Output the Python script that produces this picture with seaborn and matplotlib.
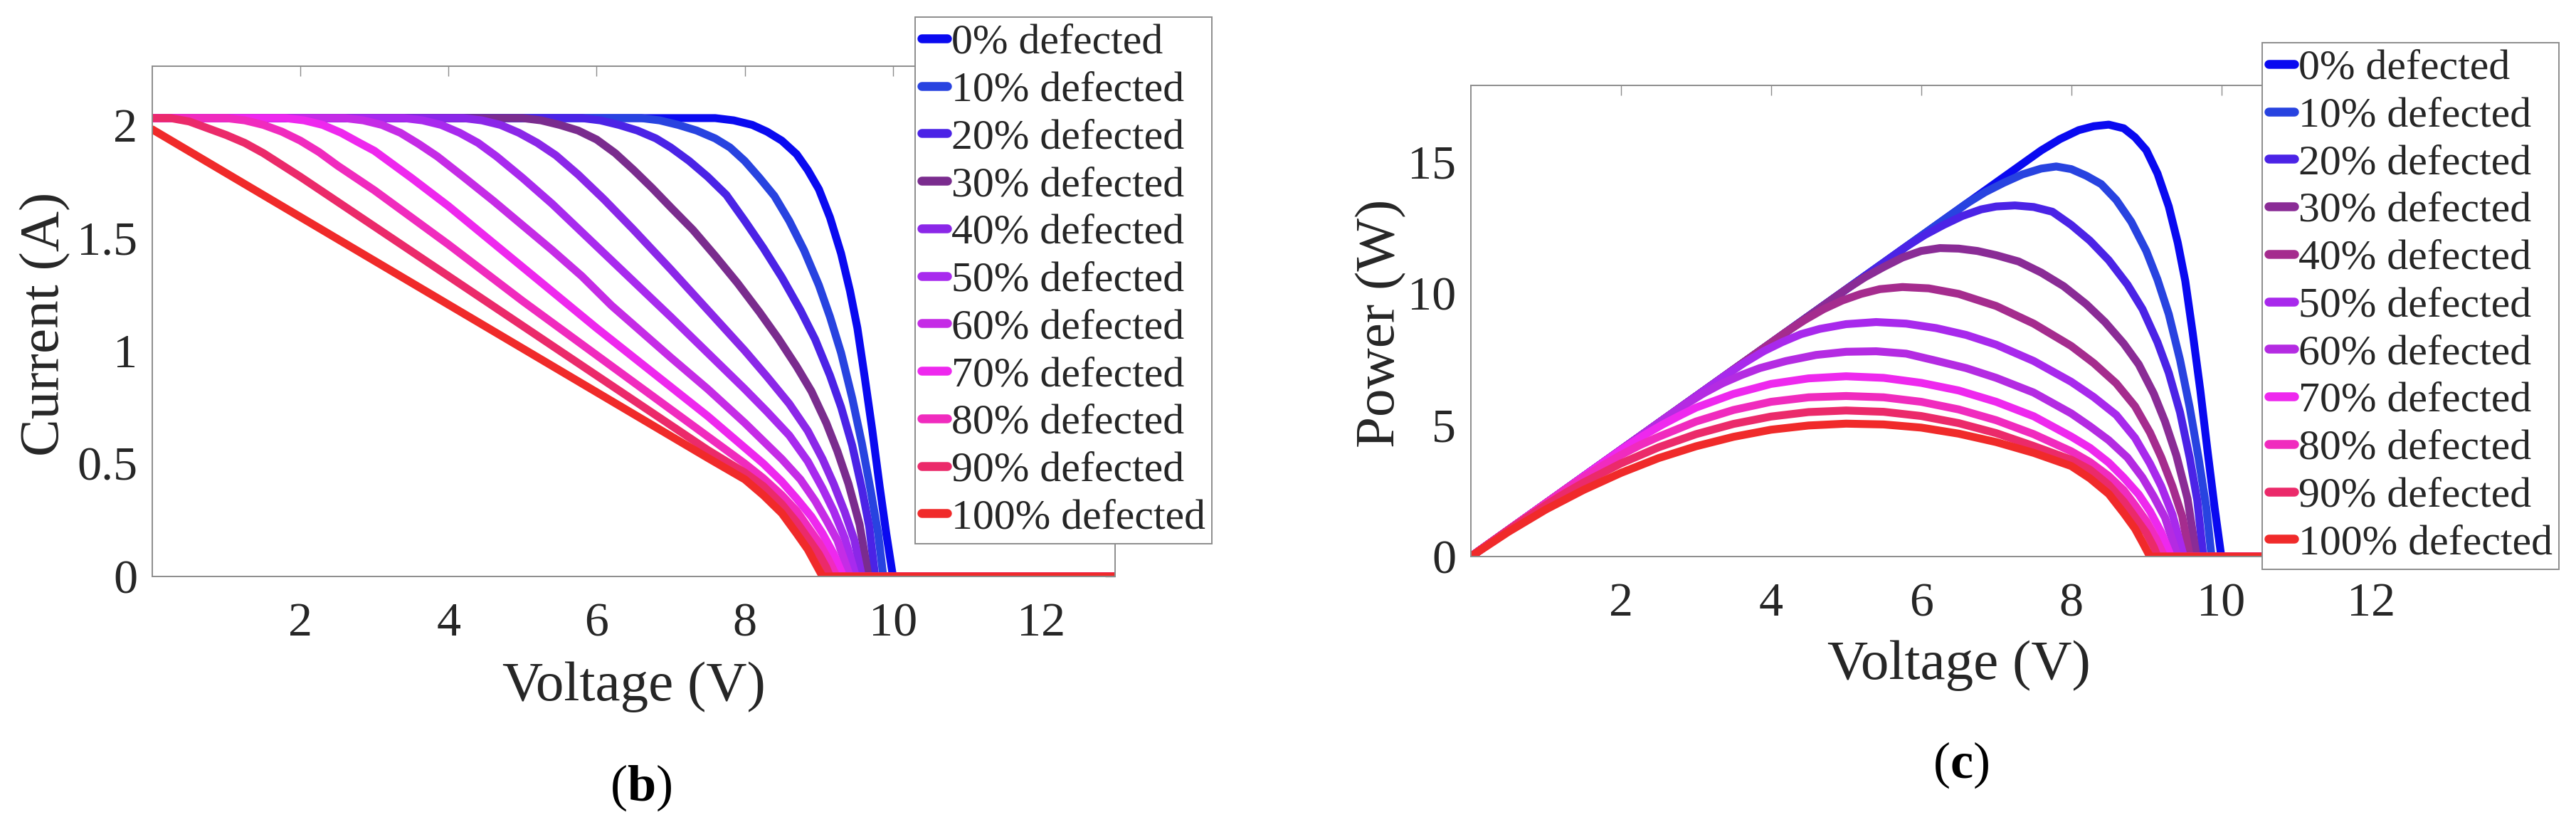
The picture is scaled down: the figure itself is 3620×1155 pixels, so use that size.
"""
I-V and P-V curves of a PV module with growing share of defected cells
"""

import pandas as pd
import matplotlib.pyplot as plt
from matplotlib.lines import Line2D
import seaborn as sns

# Curve names
levels = ['0%', '10%', '20%', '30%', '40%', '50%', '60%', '70%', '80%', '90%', '100%']
labels = [f'{lv} defected' for lv in levels]

# Line colours
colors_iv = ['#0a0af0', '#2843e0', '#4b23e6', '#7a2c8e', '#8b27e8', '#a82aee',
             '#c52ce6', '#ee28ee', '#f02bbe', '#eb2a6a', '#f02a2a']
colors_pv = ['#0a0af0', '#2843e0', '#4b23e6', '#8a2c96', '#a52c8e', '#a829ec',
             '#b42be2', '#ee28ee', '#f02bbe', '#eb2a6a', '#f02a2a']

# Voltage (V), current (A) and power (W)
v0 = [0, 7.6, 7.85, 8.1, 8.3, 8.5, 8.7, 8.85, 9.0, 9.15, 9.3, 9.42, 9.52, 9.62, 9.72, 9.82, 9.91, 10.0, 13]
i0 = [2.03, 2.03, 2.02, 2.00, 1.97, 1.93, 1.87, 1.80, 1.715, 1.59, 1.43, 1.265, 1.10, 0.88, 0.65, 0.40, 0.19, 0, 0]
p0 = [0, 15.43, 15.86, 16.20, 16.35, 16.41, 16.27, 15.93, 15.44, 14.55, 13.30, 11.92, 10.47, 8.47, 6.32, 3.93, 1.88, 0, 0]

v10 = [0, 6.6, 6.85, 7.1, 7.35, 7.6, 7.8, 8.0, 8.2, 8.4, 8.6, 8.8, 9.0, 9.15, 9.3, 9.45, 9.58, 9.7, 9.8, 9.87, 13]
i10 = [2.03, 2.03, 2.02, 2.00, 1.975, 1.94, 1.90, 1.84, 1.765, 1.685, 1.575, 1.445, 1.29, 1.15, 0.99, 0.79, 0.59, 0.38, 0.19, 0, 0]
p10 = [0, 13.40, 13.84, 14.20, 14.52, 14.74, 14.82, 14.72, 14.47, 14.15, 13.55, 12.72, 11.61, 10.52, 9.21, 7.47, 5.65, 3.69, 1.86, 0, 0]

v20 = [0, 5.8, 6.05, 6.3, 6.55, 6.8, 7.0, 7.25, 7.5, 7.75, 8.0, 8.25, 8.5, 8.75, 8.95, 9.15, 9.3, 9.45, 9.58, 9.68, 9.76, 13]
i20 = [2.03, 2.03, 2.02, 2.00, 1.975, 1.94, 1.90, 1.84, 1.77, 1.69, 1.575, 1.455, 1.325, 1.18, 1.05, 0.89, 0.75, 0.58, 0.39, 0.22, 0, 0]
p20 = [0, 11.77, 12.22, 12.60, 12.94, 13.19, 13.30, 13.34, 13.28, 13.10, 12.60, 12.00, 11.26, 10.33, 9.40, 8.14, 6.98, 5.48, 3.74, 2.13, 0, 0]

v30 = [0, 5.0, 5.25, 5.5, 5.75, 6.0, 6.25, 6.5, 6.75, 7.0, 7.3, 7.6, 7.9, 8.2, 8.45, 8.7, 8.9, 9.1, 9.25, 9.4, 9.55, 9.67, 13]
i30 = [2.03, 2.03, 2.02, 2.00, 1.975, 1.935, 1.875, 1.80, 1.72, 1.635, 1.535, 1.42, 1.30, 1.17, 1.055, 0.93, 0.82, 0.68, 0.555, 0.41, 0.23, 0, 0]
p30 = [0, 10.15, 10.61, 11.00, 11.36, 11.61, 11.72, 11.70, 11.61, 11.45, 11.21, 10.79, 10.27, 9.59, 8.91, 8.09, 7.30, 6.19, 5.13, 3.85, 2.20, 0, 0]

v40 = [0, 4.2, 4.45, 4.7, 4.95, 5.2, 5.45, 5.75, 6.1, 6.5, 7.0, 7.5, 8.0, 8.3, 8.6, 8.85, 9.05, 9.2, 9.35, 9.48, 9.58, 13]
i40 = [2.03, 2.03, 2.02, 2.00, 1.965, 1.92, 1.865, 1.78, 1.67, 1.535, 1.36, 1.18, 1.00, 0.885, 0.765, 0.645, 0.52, 0.41, 0.285, 0.16, 0, 0]
p40 = [0, 8.53, 8.99, 9.40, 9.73, 9.98, 10.16, 10.24, 10.19, 9.98, 9.52, 8.85, 8.00, 7.35, 6.58, 5.71, 4.71, 3.77, 2.66, 1.52, 0, 0]

v50 = [0, 3.4, 3.65, 3.9, 4.15, 4.4, 4.65, 5.0, 5.4, 5.8, 6.2, 6.6, 7.0, 7.5, 8.0, 8.3, 8.6, 8.85, 9.05, 9.2, 9.35, 9.5, 13]
i50 = [2.03, 2.03, 2.02, 2.00, 1.965, 1.92, 1.86, 1.765, 1.65, 1.525, 1.40, 1.275, 1.15, 0.99, 0.83, 0.73, 0.625, 0.51, 0.39, 0.29, 0.17, 0, 0]
p50 = [0, 6.90, 7.37, 7.80, 8.15, 8.45, 8.65, 8.83, 8.91, 8.85, 8.68, 8.42, 8.05, 7.43, 6.64, 6.06, 5.38, 4.51, 3.53, 2.67, 1.59, 0, 0]

v60 = [0, 2.6, 2.85, 3.1, 3.35, 3.6, 3.85, 4.2, 4.6, 5.0, 5.4, 5.8, 6.2, 6.6, 7.0, 7.5, 8.0, 8.25, 8.5, 8.75, 8.95, 9.1, 9.25, 9.42, 13]
i60 = [2.03, 2.03, 2.02, 2.00, 1.965, 1.915, 1.86, 1.77, 1.665, 1.555, 1.445, 1.33, 1.20, 1.085, 0.97, 0.83, 0.68, 0.60, 0.52, 0.43, 0.335, 0.25, 0.16, 0, 0]
p60 = [0, 5.28, 5.76, 6.20, 6.58, 6.89, 7.16, 7.43, 7.66, 7.78, 7.80, 7.71, 7.44, 7.16, 6.79, 6.23, 5.44, 4.95, 4.42, 3.76, 3.00, 2.28, 1.48, 0, 0]

v70 = [0, 1.8, 2.05, 2.3, 2.55, 2.8, 3.0, 3.5, 4.0, 4.5, 5.0, 5.5, 6.0, 6.5, 7.0, 7.5, 8.0, 8.25, 8.5, 8.7, 8.9, 9.05, 9.2, 9.33, 13]
i70 = [2.03, 2.03, 2.02, 2.00, 1.965, 1.92, 1.885, 1.765, 1.64, 1.505, 1.37, 1.235, 1.10, 0.97, 0.84, 0.71, 0.57, 0.50, 0.42, 0.345, 0.265, 0.19, 0.10, 0, 0]
p70 = [0, 3.65, 4.14, 4.60, 5.01, 5.38, 5.66, 6.18, 6.56, 6.77, 6.85, 6.79, 6.60, 6.31, 5.88, 5.33, 4.56, 4.13, 3.57, 3.00, 2.36, 1.72, 0.92, 0, 0]

v80 = [0, 1.0, 1.25, 1.5, 1.75, 2.0, 2.25, 2.5, 3.0, 3.5, 4.0, 4.5, 5.0, 5.5, 6.0, 6.5, 7.0, 7.5, 8.0, 8.25, 8.5, 8.7, 8.85, 9.0, 9.12, 9.24, 13]
i80 = [2.03, 2.03, 2.02, 2.00, 1.97, 1.93, 1.88, 1.82, 1.71, 1.59, 1.47, 1.345, 1.22, 1.10, 0.98, 0.86, 0.74, 0.62, 0.50, 0.435, 0.36, 0.29, 0.22, 0.15, 0.08, 0, 0]
p80 = [0, 2.03, 2.53, 3.00, 3.45, 3.86, 4.23, 4.55, 5.13, 5.57, 5.88, 6.05, 6.10, 6.05, 5.88, 5.59, 5.18, 4.65, 4.00, 3.59, 3.06, 2.52, 1.95, 1.35, 0.73, 0, 0]

v90 = [0, 0.25, 0.5, 0.75, 1.0, 1.25, 1.5, 2.0, 2.5, 3.0, 3.5, 4.0, 4.5, 5.0, 5.5, 6.0, 6.5, 7.0, 7.5, 8.0, 8.25, 8.5, 8.7, 8.85, 9.0, 9.1, 9.15, 13]
i90 = [2.03, 2.03, 2.015, 1.985, 1.955, 1.92, 1.875, 1.77, 1.66, 1.55, 1.44, 1.33, 1.22, 1.11, 1.00, 0.89, 0.78, 0.67, 0.56, 0.46, 0.40, 0.32, 0.24, 0.17, 0.10, 0.04, 0, 0]
p90 = [0, 0.51, 1.01, 1.49, 1.96, 2.40, 2.81, 3.54, 4.15, 4.65, 5.04, 5.32, 5.49, 5.55, 5.50, 5.34, 5.07, 4.69, 4.20, 3.68, 3.30, 2.72, 2.09, 1.50, 0.90, 0.36, 0, 0]

v100 = [0, 0.5, 1.0, 1.5, 2.0, 2.5, 3.0, 3.5, 4.0, 4.5, 5.0, 5.5, 6.0, 6.5, 7.0, 7.5, 8.0, 8.25, 8.5, 8.7, 8.85, 8.95, 9.05, 13]
i100 = [1.98, 1.883, 1.786, 1.689, 1.592, 1.495, 1.398, 1.301, 1.204, 1.107, 1.01, 0.913, 0.816, 0.719, 0.622, 0.525, 0.43, 0.36, 0.28, 0.19, 0.12, 0.06, 0, 0]
p100 = [0, 0.94, 1.79, 2.53, 3.18, 3.74, 4.19, 4.55, 4.82, 4.98, 5.05, 5.02, 4.90, 4.67, 4.35, 3.94, 3.44, 2.97, 2.38, 1.65, 1.06, 0.54, 0, 0]

voltages = [v0, v10, v20, v30, v40, v50, v60, v70, v80, v90, v100]
currents = [i0, i10, i20, i30, i40, i50, i60, i70, i80, i90, i100]
powers = [p0, p10, p20, p30, p40, p50, p60, p70, p80, p90, p100]

# Axis ticks
x_ticks = [2, 4, 6, 8, 10, 12]
i_ticks = [0, 0.5, 1, 1.5, 2]
i_ticklabels = ['0', '0.5', '1', '1.5', '2']
p_ticks = [0, 5, 10, 15]
p_ticklabels = ['0', '5', '10', '15']

GRAY = '#8c8c8c'
TEXT = '#262626'


def build_frame(values):
    """Long-form table: one row per point, one hue level per curve"""
    parts = []
    for label, v, y in zip(labels, voltages, values):
        parts.append(pd.DataFrame({'Voltage': v, 'Value': y, 'Curve': label}))
    return pd.concat(parts, ignore_index=True)


def draw_panel(ax, values, colors, ylim, yticks, yticklabels, ylabel,
               ylabel_x, xlabel_y, legend_anchor):
    df = build_frame(values)
    sns.lineplot(data=df, x='Voltage', y='Value', hue='Curve', hue_order=labels,
                 palette=dict(zip(labels, colors)), estimator=None, sort=False,
                 linewidth=8, legend=False, ax=ax)
    for line in ax.get_lines():
        line.set_solid_joinstyle('round')

    ax.set_xlim(0, 13)
    ax.set_ylim(*ylim)
    ax.set_xticks(x_ticks)
    ax.set_xticklabels([str(t) for t in x_ticks])
    ax.set_yticks(yticks)
    ax.set_yticklabels(yticklabels)

    for side in ['left', 'right', 'top', 'bottom']:
        ax.spines[side].set_visible(True)
        ax.spines[side].set_color(GRAY)
        ax.spines[side].set_linewidth(1.4)

    ax.tick_params(direction='in', length=10, width=1, color=GRAY,
                   labelsize=49, labelcolor=TEXT, top=True, right=True)
    ax.tick_params(axis='x', pad=26)
    ax.tick_params(axis='y', pad=15)

    ax.set_xlabel('Voltage (V)', fontsize=57, color=TEXT)
    ax.set_ylabel(ylabel, fontsize=57, color=TEXT)
    ax.xaxis.set_label_coords(0.5, xlabel_y)
    ax.yaxis.set_label_coords(ylabel_x, 0.495)

    handles = [Line2D([0], [0], color=c, lw=9) for c in colors]
    leg = ax.legend(handles, labels, loc='upper left', bbox_to_anchor=legend_anchor,
                    bbox_transform=ax.figure.transFigure, fontsize=43,
                    handlelength=0.6, handletextpad=0.1, borderpad=0.15,
                    labelspacing=0.2, borderaxespad=0, frameon=True,
                    fancybox=False, framealpha=1, edgecolor=GRAY)
    leg.get_frame().set_linewidth(1.4)


sns.set_style('white')
plt.rcParams['font.family'] = ['Liberation Serif', 'DejaVu Serif']
plt.rcParams['mathtext.fontset'] = 'custom'
plt.rcParams['mathtext.rm'] = 'Liberation Serif'
plt.rcParams['mathtext.bf'] = 'Liberation Serif:bold'

fig = plt.figure(figsize=(36.2, 11.55), dpi=100)
ax_iv = fig.add_axes([0.0591, 0.2987, 0.3738, 0.6208])
ax_pv = fig.add_axes([0.5710, 0.3229, 0.3787, 0.5732])

# (b) current vs voltage
draw_panel(ax_iv, currents, colors_iv, (0, 2.26), i_ticks, i_ticklabels,
           'Current (A)', -0.085, -0.167, (0.3552, 0.9792))

# (c) power vs voltage
draw_panel(ax_pv, powers, colors_pv, (0, 17.9), p_ticks, p_ticklabels,
           'Power (W)', -0.066, -0.177, (0.8782, 0.9481))

fig.text(901 / 3620, 1 - 1107 / 1155, r'$\mathrm{(}\mathbf{b}\mathrm{)}$',
         ha='center', va='center', fontsize=52, color='black')
fig.text(2756 / 3620, 1 - 1075 / 1155, r'$\mathrm{(}\mathbf{c}\mathrm{)}$',
         ha='center', va='center', fontsize=52, color='black')

fig.savefig('out.png', dpi=100)
plt.close(fig)
